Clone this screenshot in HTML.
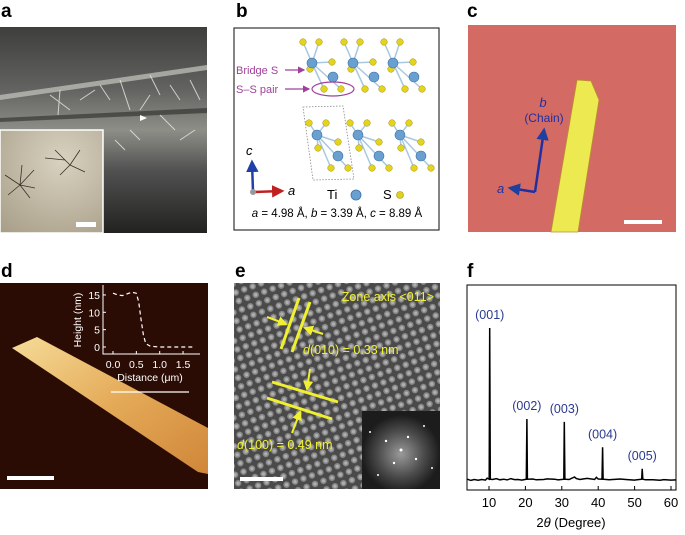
<!DOCTYPE html>
<html><head><meta charset="utf-8">
<style>
html,body{margin:0;padding:0;background:#fff;}
body{width:685px;height:535px;position:relative;overflow:hidden;font-family:"Liberation Sans",Arial,sans-serif;}
.lbl{position:absolute;font-weight:bold;font-size:19px;color:#000;line-height:1;}
</style></head>
<body>
<svg width="685" height="535" viewBox="0 0 685 535" xmlns="http://www.w3.org/2000/svg" style="position:absolute;left:0;top:0" font-family="Liberation Sans, Arial, sans-serif">
<defs>
<linearGradient id="ga" x1="0" y1="0" x2="0" y2="1">
<stop offset="0" stop-color="#3e3e3c"/><stop offset="0.3" stop-color="#626260"/><stop offset="0.5" stop-color="#8e8e88"/><stop offset="0.7" stop-color="#505050"/><stop offset="1" stop-color="#222220"/></linearGradient>
<radialGradient id="gin" cx="0.6" cy="0.3" r="0.9"><stop offset="0" stop-color="#d8d2c0"/><stop offset="1" stop-color="#a89e88"/></radialGradient>
<pattern id="lat" width="9" height="9" patternUnits="userSpaceOnUse" patternTransform="rotate(-20)">
<rect width="9" height="9" fill="#4a4a4a"/><circle cx="4.5" cy="4.5" r="3.2" fill="#8a8a8a"/><circle cx="4.5" cy="4.5" r="1.6" fill="#b0b0b0"/></pattern>
<radialGradient id="fft" cx="0.5" cy="0.55" r="0.5"><stop offset="0" stop-color="#9a9a9a"/><stop offset="0.6" stop-color="#4a4a4a"/><stop offset="1" stop-color="#1c1c1c"/></radialGradient>
<linearGradient id="gd" x1="0" y1="0" x2="1" y2="1"><stop offset="0" stop-color="#f6dc98"/><stop offset="0.5" stop-color="#e4aa58"/><stop offset="1" stop-color="#d08638"/></linearGradient>
<marker id="am" markerWidth="6" markerHeight="6" refX="5" refY="3" orient="auto"><path d="M0,0 L6,3 L0,6z" fill="#a0409a"/></marker>
<marker id="ay" markerWidth="5" markerHeight="5" refX="4" refY="2.5" orient="auto"><path d="M0,0 L5,2.5 L0,5z" fill="#f0f030"/></marker>
<marker id="ab" markerWidth="5" markerHeight="5" refX="4" refY="2.5" orient="auto"><path d="M0,0 L5,2.5 L0,5z" fill="#2040a0"/></marker>
<marker id="ar" markerWidth="5" markerHeight="5" refX="4" refY="2.5" orient="auto"><path d="M0,0 L5,2.5 L0,5z" fill="#c02020"/></marker>
<marker id="abl" markerWidth="5" markerHeight="5" refX="4" refY="2.5" orient="auto"><path d="M0,0 L5,2.5 L0,5z" fill="#2040a8"/></marker>
</defs>

<!-- panel a -->
<g>
<rect x="0" y="27" width="207" height="206" fill="url(#ga)"/>
<path d="M0,95 L207,65 L207,70 L0,100z" fill="#c8c8c0" opacity="0.7"/>
<path d="M0,118 L207,108 L207,113 L0,122z" fill="#2a2a28" opacity="0.6"/>
<g stroke="#e8e8e4" stroke-width="1" opacity="0.8">
<path d="M50,95 L70,110 M60,90 L58,115 M100,85 L110,100 M120,80 L130,110 M150,75 L160,95 M170,85 L180,100 M80,100 L95,90 M140,110 L150,95 M190,80 L200,100 M130,130 L140,140 M160,115 L175,130 M115,140 L125,150 M180,140 L195,130"/>
</g>
<polygon points="140,115 147,118 140,121" fill="#fff"/>
<rect x="0" y="130" width="103" height="103" fill="url(#gin)" stroke="#fff" stroke-width="1.5"/>
<g stroke="#3a3028" stroke-width="0.8"><path d="M20,185 L34,170 M20,185 L5,175 M20,185 L30,198 M20,185 L8,195 M20,185 L22,165 M20,185 L35,188 M70,165 L55,150 M70,165 L80,150 M70,165 L60,175 M70,165 L85,172 M65,160 L45,158"/></g>
<rect x="76" y="222" width="20" height="5" fill="#fff"/>
</g>

<!-- panel b -->
<g>
<rect x="234" y="28" width="205" height="202" fill="#fff" stroke="#333" stroke-width="1.2"/>
<g id="chains"></g>
<polygon points="303,107 343,106 354,179 313,180" fill="none" stroke="#888" stroke-width="0.8" stroke-dasharray="1.5,1.5"/>
<ellipse cx="333" cy="89" rx="21" ry="7" fill="none" stroke="#a0409a" stroke-width="1.2"/>
<text x="236" y="74" font-size="11" fill="#a0409a">Bridge S</text>
<line x1="285" y1="70" x2="304" y2="70" stroke="#a0409a" stroke-width="1.2" marker-end="url(#am)"/>
<text x="236" y="93" font-size="11" fill="#a0409a">S–S pair</text>
<line x1="285" y1="89" x2="309" y2="89" stroke="#a0409a" stroke-width="1.2" marker-end="url(#am)"/>
<line x1="253" y1="192" x2="252" y2="162" stroke="#2040a8" stroke-width="2.5" marker-end="url(#abl)"/>
<line x1="253" y1="192" x2="282" y2="191" stroke="#c02020" stroke-width="2.5" marker-end="url(#ar)"/>
<circle cx="253" cy="192" r="3" fill="#999"/>
<text x="246" y="155" font-size="13" font-style="italic">c</text>
<text x="288" y="195" font-size="13" font-style="italic">a</text>
<text x="327" y="199" font-size="13">Ti</text>
<circle cx="356" cy="195" r="5" fill="#6aa0d0" stroke="#3a70a8" stroke-width="0.8"/>
<text x="383" y="199" font-size="13">S</text>
<circle cx="400" cy="195" r="3.5" fill="#e0d020" stroke="#a09010" stroke-width="0.6"/>
<text x="337" y="217" font-size="11.5" text-anchor="middle"><tspan font-style="italic">a</tspan> = 4.98 Å, <tspan font-style="italic">b</tspan> = 3.39 Å, <tspan font-style="italic">c</tspan> = 8.89 Å</text>
</g>

<!-- panel c -->
<g>
<rect x="468" y="25" width="208" height="207" fill="#d46a64"/>
<polygon points="577,80 591,81 599,100 578,232 551,232" fill="#ecea50" stroke="#b89030" stroke-width="0.8"/>
<line x1="535" y1="192" x2="544" y2="130" stroke="#2030a0" stroke-width="2.5" marker-end="url(#ab)"/>
<line x1="535" y1="192" x2="510" y2="188" stroke="#2030a0" stroke-width="2.5" marker-end="url(#ab)"/>
<text x="543" y="107" font-size="13" font-style="italic" fill="#2030a0" text-anchor="middle">b</text>
<text x="544" y="122" font-size="12" fill="#2030a0" text-anchor="middle">(Chain)</text>
<text x="497" y="193" font-size="13" font-style="italic" fill="#2030a0">a</text>
<rect x="624" y="220" width="38" height="4" fill="#fff"/>
</g>

<!-- panel d -->
<g>
<rect x="0" y="283" width="208" height="206" fill="#2a0c04"/>
<polygon points="12,348 37,337 208,428 208,474 198,472" fill="url(#gd)"/>
<line x1="111" y1="392" x2="189" y2="392" stroke="#fff" stroke-width="1.2"/>
<rect x="7" y="476" width="47" height="4" fill="#fff"/>
<g id="dinset"></g>
</g>

<!-- panel e -->
<g>
<rect x="234" y="283" width="206" height="206" fill="url(#lat)"/>
<rect x="362" y="411" width="78" height="78" fill="url(#fft)"/>
<g fill="#fff"><circle cx="401" cy="450" r="1.5"/><circle cx="386" cy="441" r="1.2"/><circle cx="416" cy="459" r="1.2"/><circle cx="408" cy="437" r="1.2"/><circle cx="394" cy="463" r="1.2"/><circle cx="370" cy="432" r="1"/><circle cx="432" cy="468" r="1"/><circle cx="378" cy="475" r="1"/><circle cx="424" cy="426" r="1"/></g>
<g stroke="#f0f030" stroke-width="3"><line x1="299" y1="298" x2="281" y2="349"/><line x1="310" y1="302" x2="292" y2="352"/><line x1="272" y1="382" x2="338" y2="402"/><line x1="267" y1="398" x2="332" y2="419"/></g>
<g stroke="#f0f030" stroke-width="2"><line x1="267" y1="317" x2="286" y2="324" marker-end="url(#ay)"/><line x1="323" y1="334" x2="305" y2="328" marker-end="url(#ay)"/><line x1="310" y1="369" x2="307" y2="389" marker-end="url(#ay)"/><line x1="292" y1="433" x2="300" y2="412" marker-end="url(#ay)"/></g>
<text x="434" y="301" font-size="12.5" fill="#f0f030" text-anchor="end">Zone axis &lt;011&gt;</text>
<text x="303" y="354" font-size="12.5" fill="#f0f030"><tspan font-style="italic">d</tspan>(010) = 0.33 nm</text>
<text x="237" y="449" font-size="12.5" fill="#f0f030"><tspan font-style="italic">d</tspan>(100) = 0.49 nm</text>
<rect x="240" y="477" width="43" height="4" fill="#fff"/>
</g>

<!-- panel f -->
<g>
<rect x="467" y="285" width="209" height="205" fill="#fff" stroke="#000" stroke-width="1"/>
<g id="fplot"></g>
<text x="571" y="527" font-size="13" text-anchor="middle">2<tspan font-style="italic">θ</tspan> (Degree)</text>
</g>
</svg>
<div class="lbl" style="left:1px;top:2px">a</div>
<div class="lbl" style="left:236px;top:2px">b</div>
<div class="lbl" style="left:467px;top:2px">c</div>
<div class="lbl" style="left:1px;top:262px">d</div>
<div class="lbl" style="left:235px;top:262px">e</div>
<div class="lbl" style="left:467px;top:262px">f</div>
<script>
// XRD data
const peakPos = [10.2, 20.4, 30.7, 41.2, 52.1];
const peakInt = [100, 40.5, 38.6, 22, 8];
const peakLabels = ["(001)", "(002)", "(003)", "(004)", "(005)"];
const baseX = [4, 5, 6, 7, 8, 9, 9.5, 11, 12, 13, 14, 15, 16, 17, 18, 19, 22, 23, 25, 26, 28, 29, 32, 33.5, 34, 35, 36, 37, 39, 39.5, 40, 43, 44, 46, 48, 50, 53, 55, 57, 58, 60, 61.4];
const baseY = [1.2, 0.4, 1.0, 0.5, 1.0, 0.6, 1.8, 1.0, 1.5, 0.8, 1.2, 0.7, 1.6, 0.9, 1.0, 0.6, 1.3, 0.8, 1.0, 1.4, 1.2, 0.7, 1.0, 2.6, 1.6, 1.0, 1.4, 1.7, 1.0, 2.4, 1.3, 0.8, 1.0, 1.3, 0.9, 0.6, 0.8, 0.8, 0.5, 0.9, 0.6, 0.7];
const xTicks = [10, 20, 30, 40, 50, 60];
// AFM profile data
const profX = [0, 0.1, 0.2, 0.3, 0.4, 0.5, 0.55, 0.6, 0.65, 0.7, 0.8, 1.0, 1.3, 1.7];
const profY = [15.5, 15, 14.8, 15.3, 15.8, 15.5, 13, 8, 3.5, 1, 0.2, 0, 0, 0];
const profXTicks = [0, 0.5, 1.0, 1.5];
const profYTicks = [0, 5, 10, 15];

const NS = "http://www.w3.org/2000/svg";
function mk(tag, attrs, parent){const e=document.createElementNS(NS,tag);for(const k in attrs)e.setAttribute(k,attrs[k]);parent.appendChild(e);return e;}

// panel f
const fx = v => 489 + (v - 10) * 3.64;
const fy = v => 481 - v * 1.53;
const fp = document.getElementById('fplot');
let pts = [];
const all = [];
baseX.forEach((x,i)=>all.push([x,baseY[i]]));
peakPos.forEach((p,i)=>{all.push([p-0.15,1.2]);all.push([p,peakInt[i]]);all.push([p+0.15,1.2]);});
all.sort((a,b)=>a[0]-b[0]);
all.forEach(p=>pts.push(fx(p[0]).toFixed(1)+','+fy(p[1]).toFixed(1)));
const xl = mk('polyline',{points:pts.join(' '),fill:'none',stroke:'#000','stroke-width':1.5},fp);


peakLabels.forEach((l,i)=>{
  const t = mk('text',{x:fx(peakPos[i]),y:fy(peakInt[i])-9,'font-size':12.5,fill:'#2a3a90','text-anchor':'middle'},fp);
  t.textContent = l;
  
  
});
xTicks.forEach(v=>{
  mk('line',{x1:fx(v),x2:fx(v),y1:490,y2:486,stroke:'#000'},fp);
  const t = mk('text',{x:fx(v),y:507,'font-size':13,'text-anchor':'middle'},fp);
  t.textContent = v;
  
  
});

// panel d inset
const dx = v => 113 + v * 46.7;
const dy = v => 347 - v * 3.47;
const di = document.getElementById('dinset');
mk('polyline',{points:'103,285 103,354 200,354',fill:'none',stroke:'#fff','stroke-width':1},di);
const pp = profX.map((x,i)=>dx(x).toFixed(1)+','+dy(profY[i]).toFixed(1)).join(' ');
const pl = mk('polyline',{points:pp,fill:'none',stroke:'#fff','stroke-width':1.2,'stroke-dasharray':'4,3'},di);


profYTicks.forEach(v=>{
  mk('line',{x1:103,x2:106,y1:dy(v),y2:dy(v),stroke:'#fff'},di);
  const t = mk('text',{x:100,y:dy(v)+4,'font-size':10.5,fill:'#fff','text-anchor':'end'},di);
  t.textContent = v;
  
  
});
profXTicks.forEach(v=>{
  mk('line',{x1:dx(v),x2:dx(v),y1:354,y2:351,stroke:'#fff'},di);
  const t = mk('text',{x:dx(v),y:368,'font-size':10.5,fill:'#fff','text-anchor':'middle'},di);
  t.textContent = v.toFixed(1);
  
  
});
const dt = mk('text',{x:150,y:381,'font-size':10.5,fill:'#fff','text-anchor':'middle'},di);
dt.textContent = 'Distance (μm)';


const ht = mk('text',{x:0,y:0,'font-size':10.5,fill:'#fff','text-anchor':'middle',transform:'translate(81,320) rotate(-90)'},di);
ht.textContent = 'Height (nm)';



// panel b chains
const ch = document.getElementById('chains');
function chain(x0s, ty, ti2, sList){
  x0s.forEach(x0=>{
    const ti=[[x0,ty],[x0+ti2[0],ty+ti2[1]]];
    sList.forEach(s=>{
      mk('line',{x1:ti[0][0],y1:ti[0][1],x2:x0+s[0],y2:ty+s[1],stroke:'#a8c8e0','stroke-width':1.5},ch);
    });
    sList.forEach(s=>mk('circle',{cx:x0+s[0],cy:ty+s[1],r:3.3,fill:'#e4d420',stroke:'#a09010','stroke-width':0.5},ch));
    ti.forEach(t=>mk('circle',{cx:t[0],cy:t[1],r:5,fill:'#6aa0d0',stroke:'#3a70a8','stroke-width':0.6},ch));
  });
}
chain([312,353,393],63,[21,14],[[-9,-21],[7,-21],[-2,6],[20,-1],[12,26],[29,26]]);
chain([317,358,400],135,[21,21],[[-8,-12],[9,-12],[1,13],[21,7],[14,33],[31,33]]);
</script>
</body></html>
